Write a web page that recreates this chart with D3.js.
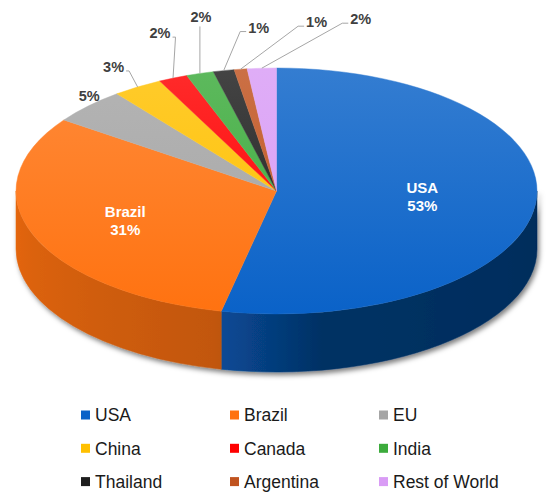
<!doctype html>
<html>
<head>
<meta charset="utf-8"/>
<title>World ethanol production share</title>
<script src="https://d3js.org/d3.v7.min.js"></script>
<style>
body{margin:0;background:#fff;}
text{font-family:"Liberation Sans",Arial,sans-serif;}
</style>
</head>
<body>
<script>
// data (percent of total)
var countries = ["USA","Brazil","EU","China","Canada","India","Thailand","Argentina","Rest of World"];
var shares = [53.4,31.4,4.7,3.1,1.8,1.7,1.3,0.8,1.8];
var colors = ["#0a62c8","#ff7210","#a5a5a5","#ffc000","#ff0000","#3cab3c","#1e1e1e","#c0531f","#d99cf5"];

// label nudges (layout only): inside labels from 0.59 radius, outside from the rim
var labelNudge = [[-7,-6],[-8,0],[1,-5],[-24,-15],[-13,-40],[1,-51],[35,-38],[76,-42],[99,-44]];

var W = 550, H = 501;
var cx = 276.5, cy = 191, rx = 260.5, ry = 123, depth = 58;

var svg = d3.select("body").append("svg")
	.attr("width", W)
	.attr("height", H);

var defs = svg.append("defs");
var pie = d3.pie().sort(null).value(function(d){return d})(shares);

function pt(a, k){
	return [cx + rx*k*Math.sin(a), cy - ry*k*Math.cos(a)];
}

// side lighting by angle around the rim
var light = d3.scaleLinear()
	.domain([Math.PI/2, 170*Math.PI/180, 193*Math.PI/180, 3*Math.PI/2])
	.range([0.45, 0.5, 0.76, 0.9]);

function shade(c, f){
	var r = d3.rgb(c);
	return d3.rgb(r.r*f, r.g*f, r.b*f).formatHex();
}

// gradients
colors.forEach(function(c,i){
	var g = defs.append("linearGradient").attr("id","top"+i)
		.attr("gradientUnits","userSpaceOnUse")
		.attr("x1",0).attr("x2",0).attr("y1",-rx).attr("y2",rx);
	g.append("stop").attr("offset",0).attr("stop-color", d3.interpolateRgb(c,"#fff")(0.17));
	g.append("stop").attr("offset",1).attr("stop-color", c);

	var s = defs.append("linearGradient").attr("id","side"+i)
		.attr("gradientUnits","userSpaceOnUse")
		.attr("x1",cx-rx).attr("x2",cx+rx).attr("y1",0).attr("y2",0);
	d3.range(270, 89, -4).forEach(function(deg){
		var a = deg*Math.PI/180;
		var x = cx + rx*Math.sin(a);
		s.append("stop").attr("offset", (x-(cx-rx))/(2*rx)).attr("stop-color", shade(c, light(a)));
	});
});

var f = defs.append("filter").attr("id","shadow")
	.attr("x","-10%").attr("y","-10%").attr("width","120%").attr("height","140%");
f.append("feDropShadow").attr("dx",2).attr("dy",3).attr("stdDeviation",2.5)
	.attr("flood-color","#000").attr("flood-opacity",0.5);

// front rim
var front = svg.append("g").attr("filter","url(#shadow)");
pie.forEach(function(s,i){
	var a0 = Math.max(s.startAngle, Math.PI/2), a1 = Math.min(s.endAngle, 3*Math.PI/2);
	if (a1 <= a0) return;
	var p0 = pt(a0,1), p1 = pt(a1,1);
	var d = "M"+p0+"A"+rx+","+ry+" 0 0 1 "+p1
		+"L"+p1[0]+","+(p1[1]+depth)
		+"A"+rx+","+ry+" 0 0 0 "+p0[0]+","+(p0[1]+depth)+"Z";
	front.append("path").attr("d",d)
		.attr("fill","url(#side"+i+")")
		.attr("stroke","url(#side"+i+")").attr("stroke-width",0.5);
});

// top face
var arc = d3.arc().innerRadius(0).outerRadius(rx);
svg.append("g")
	.attr("transform","translate("+cx+","+cy+") scale(1,"+(ry/rx)+")")
	.selectAll("path")
	.data(pie)
	.join("path")
	.attr("d", arc)
	.attr("fill", function(d,i){return "url(#top"+i+")"})
	.attr("stroke", function(d,i){return "url(#top"+i+")"})
	.attr("stroke-width",0.6);

// labels
var lab = svg.append("g");
pie.forEach(function(s,i){
	var m = (s.startAngle + s.endAngle)/2;
	var pct = Math.round(shares[i]) + "%";
	if (shares[i] > 10) {
		var b = pt(m, 0.59);
		var t = lab.append("text")
			.attr("text-anchor","middle")
			.attr("fill","#fff")
			.attr("font-weight","bold")
			.attr("font-size","15px");
		t.append("tspan").attr("x", b[0]+labelNudge[i][0]).attr("y", b[1]+labelNudge[i][1]).text(countries[i]);
		t.append("tspan").attr("x", b[0]+labelNudge[i][0]).attr("dy", 18).text(pct);
	} else {
		var a = pt(m, 1);
		var tx = a[0]+labelNudge[i][0], ty = a[1]+labelNudge[i][1];
		var t = lab.append("text")
			.attr("x",tx).attr("y",ty)
			.attr("text-anchor","middle")
			.attr("fill","#404040")
			.attr("font-weight","bold")
			.attr("font-size","14.5px")
			.text(pct);
		var w = t.node().getComputedTextLength();
		if (Math.hypot(labelNudge[i][0], labelNudge[i][1]) < 12) return;
		var pts;
		if (Math.abs(a[0]-tx) < w/2) pts = [[a[0], ty+4],[a[0], a[1]]];
		else if (a[0] > tx) pts = [[tx+w/2+2, ty-1],[tx+w/2+5, ty-1],[a[0],a[1]]];
		else pts = [[tx-w/2-2, ty-1],[tx-w/2-8, ty-1],[a[0],a[1]]];
		lab.append("path")
			.attr("d", d3.line()(pts))
			.attr("fill","none")
			.attr("stroke","#a6a6a6")
			.attr("stroke-width",1);
	}
});

// legend
var colX = d3.scaleLinear().domain([0,1]).range([81,230]);
var rowY = d3.scaleLinear().domain([0,1]).range([415,448.3]);
var leg = svg.append("g").selectAll("g")
	.data(countries)
	.join("g")
	.attr("transform", function(d,i){return "translate("+colX(i%3)+","+rowY(Math.floor(i/3))+")"});
leg.append("rect")
	.attr("x",0).attr("y",-4.5)
	.attr("width",9).attr("height",9)
	.attr("fill", function(d,i){return colors[i]});
leg.append("text")
	.attr("x",14).attr("y",6.3)
	.attr("font-size","17.5px")
	.attr("fill","#1a1a1a")
	.text(function(d){return d});
</script>
</body>
</html>
